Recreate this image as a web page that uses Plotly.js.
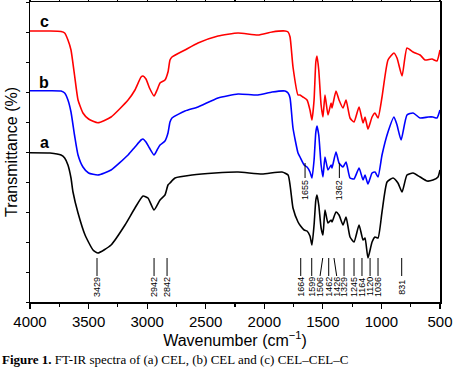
<!DOCTYPE html>
<html>
<head>
<meta charset="utf-8">
<script src="https://cdn.plot.ly/plotly-3.0.1.min.js"></script>
<style>html,body{margin:0;padding:0;background:#fff;}#chart{width:474px;height:369px;}</style>
</head>
<body>
<div id="chart"></div>
<script>
// Wavenumbers (cm-1) and relative transmittance (arbitrary units, offset per curve)
const waveC = [4000,3829,3735,3704,3676,3650,3620,3590,3548,3500,3420,3308,3163,3104,3052,3035,3010,2980,2941,2915,2890,2848,2822,2805,2788,2677,2566,2395,2224,2054,1934,1823,1797,1780,1755,1712,1695,1670,1635,1610,1593,1575,1560,1550,1535,1515,1499,1482,1456,1430,1422,1388,1362,1328,1302,1268,1234,1191,1157,1140,1115,1080,1055,1029,995,944,893,867,824,782,730,670,628,568,526,500];
const transC = [271,271,270.5,269,262,252,227,202,189,183,179.3,185,202,212,225,226,223,214,206,212,219,222,230,242,245,252,259,266,269,267,270,271,270,265,235,207,207,205,202,192,182,202,240,246,232,197,185,207,187,199,194,211,202,194,202,184,180,195,179,185,173,185,189,184,205,242,249,244,226,254,250,247,242,243,241,252];

const waveB = [4000,3829,3735,3704,3676,3650,3620,3590,3548,3500,3420,3308,3163,3104,3052,3035,3010,2980,2941,2915,2890,2848,2822,2805,2788,2677,2566,2395,2224,2054,1934,1823,1797,1780,1755,1712,1695,1660,1635,1610,1593,1575,1560,1550,1535,1515,1499,1482,1456,1430,1422,1388,1362,1328,1302,1268,1234,1191,1157,1140,1115,1080,1055,1029,995,944,893,867,832,782,730,670,600,560,526,500];
const transB = [211.3,211.3,211,209,202,190,167,147,135,129,127,132,147,155,162,163,160,154,147,152,157,161,169,180,184,191,195,204,208,207,210,211,209,204,174,149,145,137,135,130,124,142,170,176,167,137,125,145,132,137,134,150,139,135,140,124,123,134,122,127,118,129,130,125,147,170,185,177,162,187,189,184,185,185,184,192];

const waveA = [4000,3829,3735,3704,3676,3650,3633,3590,3530,3462,3420,3308,3189,3104,3035,2993,2941,2890,2848,2822,2805,2762,2617,2421,2224,2019,1849,1797,1755,1712,1690,1660,1635,1610,1593,1575,1560,1550,1535,1515,1499,1482,1456,1430,1422,1388,1362,1328,1302,1268,1234,1191,1157,1140,1115,1080,1055,1029,995,952,901,859,824,782,730,670,611,560,517,500];
const transA = [149.3,149,147,144,137,124,110,89,67,52,49,57,77,94,106,104,92,102,107,117,119,124,127,129,130,128,130,127,94,80,76,72,71,66,57,77,102,107,97,74,67,92,79,82,80,90,87,77,85,65,60,77,62,64,44,60,65,64,90,120,124,119,110,127,129,125,121,122,125,132];

// Curve names and where they sit
const curveNames = ["a","b","c"];
const curveNameY = [160,220,281];

// Peak assignments for curve a
const peakLabelsA = ["3429","2942","2842","1664","1599","1506","1462","1426","1329","1245","1164","1120","1036","831"];
const peakLineTopA = [3428,2941,2830,1689,1595,1501,1450,1405,1319,1234,1166,1097,1029,827];
const peakTextA   = [3428,2941,2830,1689,1595,1524,1450,1382,1319,1234,1166,1097,1029,827];
// Peak assignments for curve b
const peakLabelsB = ["1655","1362"];
const peakPosB = [1652,1359];

const traces = [
  {x: waveA, y: transA, mode:'lines', line:{color:'#000000', width:1.6, shape:'spline', smoothing:0.5}, hoverinfo:'skip'},
  {x: waveB, y: transB, mode:'lines', line:{color:'#0000ff', width:1.6, shape:'spline', smoothing:0.5}, hoverinfo:'skip'},
  {x: waveC, y: transC, mode:'lines', line:{color:'#ff0000', width:1.6, shape:'spline', smoothing:0.5}, hoverinfo:'skip'}
];

const shapes = [];
const annotations = [];
peakLabelsA.forEach((lab,i)=>{
  shapes.push({type:'line', xref:'x', yref:'y', x0:peakLineTopA[i], x1:peakTextA[i], y0:44, y1:26, line:{color:'#000', width:1}});
  annotations.push({x:peakTextA[i], y:15, xref:'x', yref:'y', text:lab, textangle:-90, showarrow:false,
    font:{family:'Liberation Sans, Arial', size:9, color:'#000'}});
});
peakLabelsB.forEach((lab,i)=>{
  shapes.push({type:'line', xref:'x', yref:'y', x0:peakPosB[i], x1:peakPosB[i], y0:139, y1:124, line:{color:'#000', width:1}});
  annotations.push({x:peakPosB[i], y:112, xref:'x', yref:'y', text:lab, textangle:-90, showarrow:false,
    font:{family:'Liberation Sans, Arial', size:9, color:'#000'}});
});
curveNames.forEach((n,i)=>{
  annotations.push({x:3880, y:curveNameY[i], xref:'x', yref:'y', text:'<b>'+n+'</b>', showarrow:false,
    font:{family:'Liberation Sans, Arial', size:16, color:'#000'}});
});
annotations.push({xref:'paper', yref:'paper', x:-0.073, y:-0.222, xanchor:'left', yanchor:'bottom', showarrow:false,
  text:'<b>Figure 1.</b> FT-IR spectra of (a) CEL, (b) CEL and (c) CEL\u2013CEL\u2013C',
  font:{family:'Liberation Serif, Times New Roman', size:13, color:'#000'}});

const layout = {
  width:474, height:369,
  margin:{l:30, r:34, t:2, b:67},
  paper_bgcolor:'#fff', plot_bgcolor:'#fff',
  showlegend:false,
  xaxis:{
    range:[4000,500], autorange:false,
    tickvals:[4000,3500,3000,2500,2000,1500,1000,500],
    ticks:'outside', ticklen:5, tickwidth:1.2, tickcolor:'#000',
    minor:{dtick:250, tick0:500, ticks:'outside', ticklen:3, tickcolor:'#000'},
    showline:true, linecolor:'#000', linewidth:1.5, mirror:'allticks',
    showgrid:false, zeroline:false,
    tickfont:{family:'Liberation Sans, Arial', size:15, color:'#000'},
    title:{text:'Wavenumber (cm<sup>\u22121</sup>)', font:{family:'Liberation Sans, Arial', size:16, color:'#000'}, standoff:0}
  },
  yaxis:{
    range:[0,300], autorange:false,
    showticklabels:false,
    ticks:'outside', ticklen:3, dtick:30, tickcolor:'#000',
    showline:true, linecolor:'#000', linewidth:1.5, mirror:true,
    showgrid:false, zeroline:false,
    title:{text:'Transmittance (%)', font:{family:'Liberation Sans, Arial', size:16, color:'#000'}, standoff:4}
  },
  shapes: shapes,
  annotations: annotations
};

Plotly.newPlot('chart', traces, layout, {staticPlot:true, displayModeBar:false});
</script>
</body>
</html>
